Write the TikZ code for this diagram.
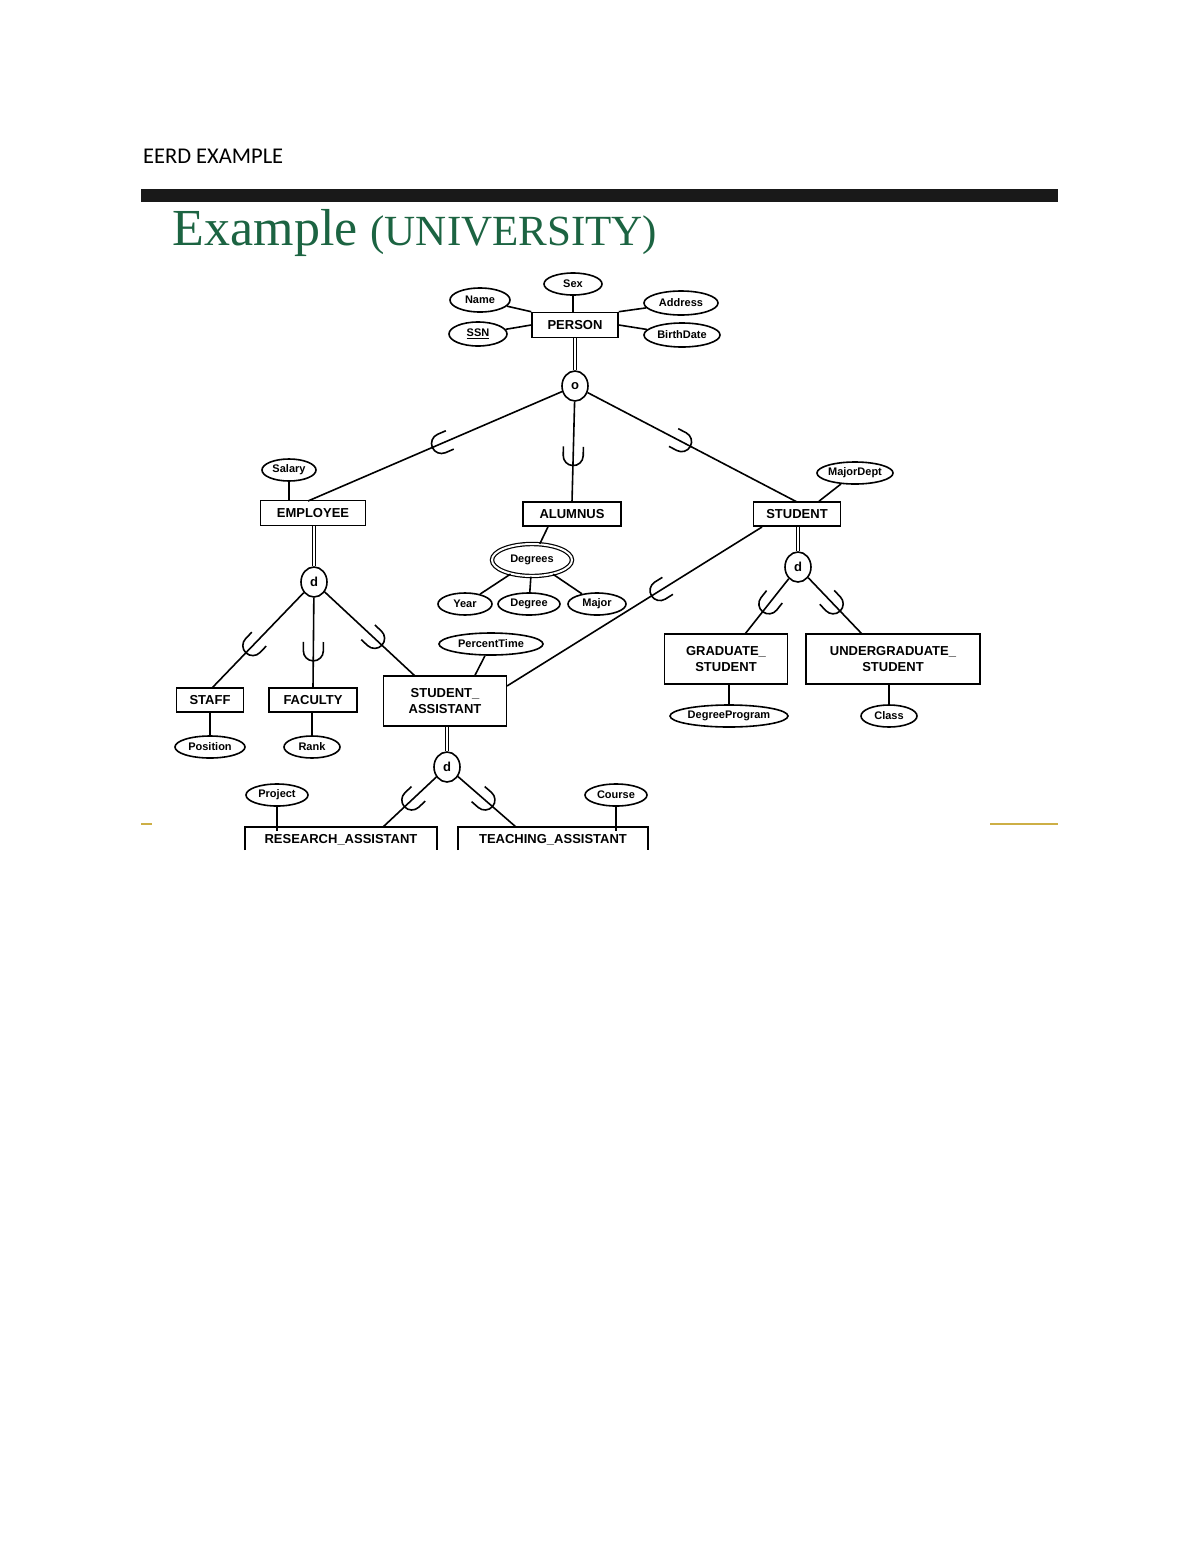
\documentclass[tikz,border=0pt]{standalone}
\usepackage{fontspec}
\setmainfont{Liberation Sans}
\newfontfamily\calfnt{Carlito}
\newfontfamily\tmsfnt{Liberation Serif}
\usetikzlibrary{calc,shapes.geometric}
\definecolor{egreen}{RGB}{28,100,66}
\definecolor{olive}{RGB}{205,175,70}
\begin{document}
\begin{tikzpicture}[x=1pt,y=-1pt,line width=1.6pt,
 ent/.style={draw,rectangle,inner sep=0pt,font=\fontsize{13}{14}\selectfont\bfseries,align=center},
 att/.style={draw,ellipse,inner sep=0pt,font=\fontsize{11}{12}\selectfont\bfseries},
 circ/.style={draw,ellipse,minimum width=26,minimum height=30,inner sep=0pt,font=\fontsize{13}{14}\selectfont\bfseries},
 dbl/.style={double,double distance=2.4pt,line width=1.2pt}]
\useasboundingbox (0,0) rectangle (1200,1553);
\node[anchor=west,font=\calfnt\fontsize{22.5}{23}\selectfont] (ttl) at (139,156) {EERD EXAMPLE};
\fill[black!90] (141,189) rectangle (1058,202);
\node[anchor=base west,inner sep=0pt,text=egreen,font=\tmsfnt\fontsize{52}{52}\selectfont] (ex) at (172,245) {Example \fontsize{43}{43}\selectfont(UNIVERSITY)};
% entities
\node[ent,minimum width=86,minimum height=25] (person) at (575,325) {PERSON};
\node[ent,minimum width=105,minimum height=25] (emp) at (313,513) {EMPLOYEE};
\node[ent,minimum width=98,minimum height=24] (alum) at (572,514) {ALUMNUS};
\node[ent,minimum width=87,minimum height=24] (stud) at (797,514) {STUDENT};
\node[ent,minimum width=67,minimum height=24] (staff) at (210,700) {STAFF};
\node[ent,minimum width=88,minimum height=24] (fac) at (313,700) {FACULTY};
\node[ent,minimum width=123,minimum height=50] (sa) at (445,701) {STUDENT\_\\[2pt]ASSISTANT};
\node[ent,minimum width=123,minimum height=50] (grad) at (726,659) {GRADUATE\_\\[2pt]STUDENT};
\node[ent,minimum width=174,minimum height=50] (ugrad) at (893,659) {UNDERGRADUATE\_\\[2pt]STUDENT};
\draw (245,850) -- (245,827) -- (437,827) -- (437,850);
\node[font=\fontsize{13}{14}\selectfont\bfseries] (ra) at (341,840) {RESEARCH\_ASSISTANT};
\draw (458,850) -- (458,827) -- (648,827) -- (648,850);
\node[font=\fontsize{13}{14}\selectfont\bfseries] (ta) at (553,840) {TEACHING\_ASSISTANT};
% attributes
\node[att,minimum width=58,minimum height=22] (sex) at (573,284) {Sex};
\node[att,minimum width=60,minimum height=24] (name) at (480,300) {Name};
\node[att,minimum width=58,minimum height=24] (ssn) at (478,334) {\underline{SSN}};
\node[att,minimum width=74,minimum height=24] (addr) at (681,303) {Address};
\node[att,minimum width=76,minimum height=24] (bd) at (682,335) {BirthDate};
\node[att,minimum width=54,minimum height=22] (sal) at (289,470) {Salary};
\node[att,minimum width=74,minimum height=22] (md) at (855,473) {MajorDept};
\node[att,minimum width=80,minimum height=32,double,double distance=2pt,line width=1.2pt] (degs) at (532,560) {Degrees};
\node[att,minimum width=54,minimum height=22] (year) at (465,604) {Year};
\node[att,minimum width=62,minimum height=22] (deg) at (529,604) {Degree};
\node[att,minimum width=58,minimum height=22] (maj) at (597,604) {Major};
\node[att,minimum width=104,minimum height=22] (pt) at (491,644) {PercentTime};
\node[att,minimum width=70,minimum height=22] (pos) at (210,747) {Position};
\node[att,minimum width=56,minimum height=22] (rank) at (312,747) {Rank};
\node[att,minimum width=118,minimum height=22] (dp) at (729,716) {DegreeProgram};
\node[att,minimum width=56,minimum height=22] (cls) at (889,716) {Class};
\node[att,minimum width=62,minimum height=22] (proj) at (277,795) {Project};
\node[att,minimum width=62,minimum height=22] (crs) at (616,795) {Course};
% circles
\node[circ] (o) at (575,386) {o};
\node[circ] (d1) at (314,582) {d};
\node[circ] (d2) at (798,567) {d};
\node[circ] (d3) at (447,767) {d};
% attribute lines
\draw (sex) -- (person.north -| sex);
\draw (name) -- (person.north west);
\draw (ssn) -- (person.west);
\draw (addr) -- (person.north east);
\draw (bd) -- (person.east);
\draw (sal) -- (sal|-emp.north);
\draw (md) -- ([xshift=22pt]stud.north);
\draw (degs) -- ([xshift=-24pt]alum.south);
\draw (degs) -- (year); \draw (degs) -- (deg); \draw (degs) -- (maj);
\draw (pt) -- ([xshift=30pt]sa.north);
\draw (pos) -- (pos|-staff.south);
\draw (rank) -- (rank|-fac.south);
\draw (dp) -- (dp|-grad.south);
\draw (cls) -- (cls|-ugrad.south);
\draw (proj) -- (proj|-ra.north);
\draw (crs) -- (crs|-ta.north);
% double lines
\draw[dbl] (person) -- (o);
\draw[dbl] (emp.south -| d1) -- (d1);
\draw[dbl] (stud.south -| d2) -- (d2);
\draw[dbl] (sa.south -| d3) -- (d3);
% subclass lines with cups
\newcommand\cupln[3]{%
 \draw (#1) -- (#2);
 \coordinate (cA) at (#1.center); \coordinate (cB) at (#2);
 \coordinate (cc) at ($(cA)!#3!(cB)$);
 \draw let \p1=($(cB)-(cA)$), \n1={atan2(\y1,\x1)} in
   [shift={(cc)},rotate=\n1] (-9,10) -- (0,10) arc[start angle=90,end angle=-90,radius=10] -- (-9,-10);
}
\coordinate (e1) at (308,501);
\coordinate (s1) at (797,502);
\coordinate (al1) at (572,502);
\cupln{o}{e1}{0.5}
\cupln{o}{al1}{0.6}
\cupln{o}{s1}{0.48}
\coordinate (st1) at (762,527); \coordinate (sa1) at (507,686);
\cupln{st1}{sa1}{0.4}
\coordinate (c1) at (212,688); \coordinate (c2) at (313,688); \coordinate (c3) at (415,676);
\cupln{d1}{c1}{0.6}
\cupln{d1}{c2}{0.65}
\cupln{d1}{c3}{0.6}
\coordinate (g1) at (745,634); \coordinate (u1) at (862,634);
\cupln{d2}{g1}{0.55}
\cupln{d2}{u1}{0.55}
\coordinate (r1) at (383,827); \coordinate (t1) at (516,827);
\cupln{d3}{r1}{0.55}
\cupln{d3}{t1}{0.55}
% yellow lines
\draw[olive,line width=1.5pt] (141,824) -- (152,824);
\draw[olive,line width=1.5pt] (990,824) -- (1058,824);
\end{tikzpicture}
\end{document}
